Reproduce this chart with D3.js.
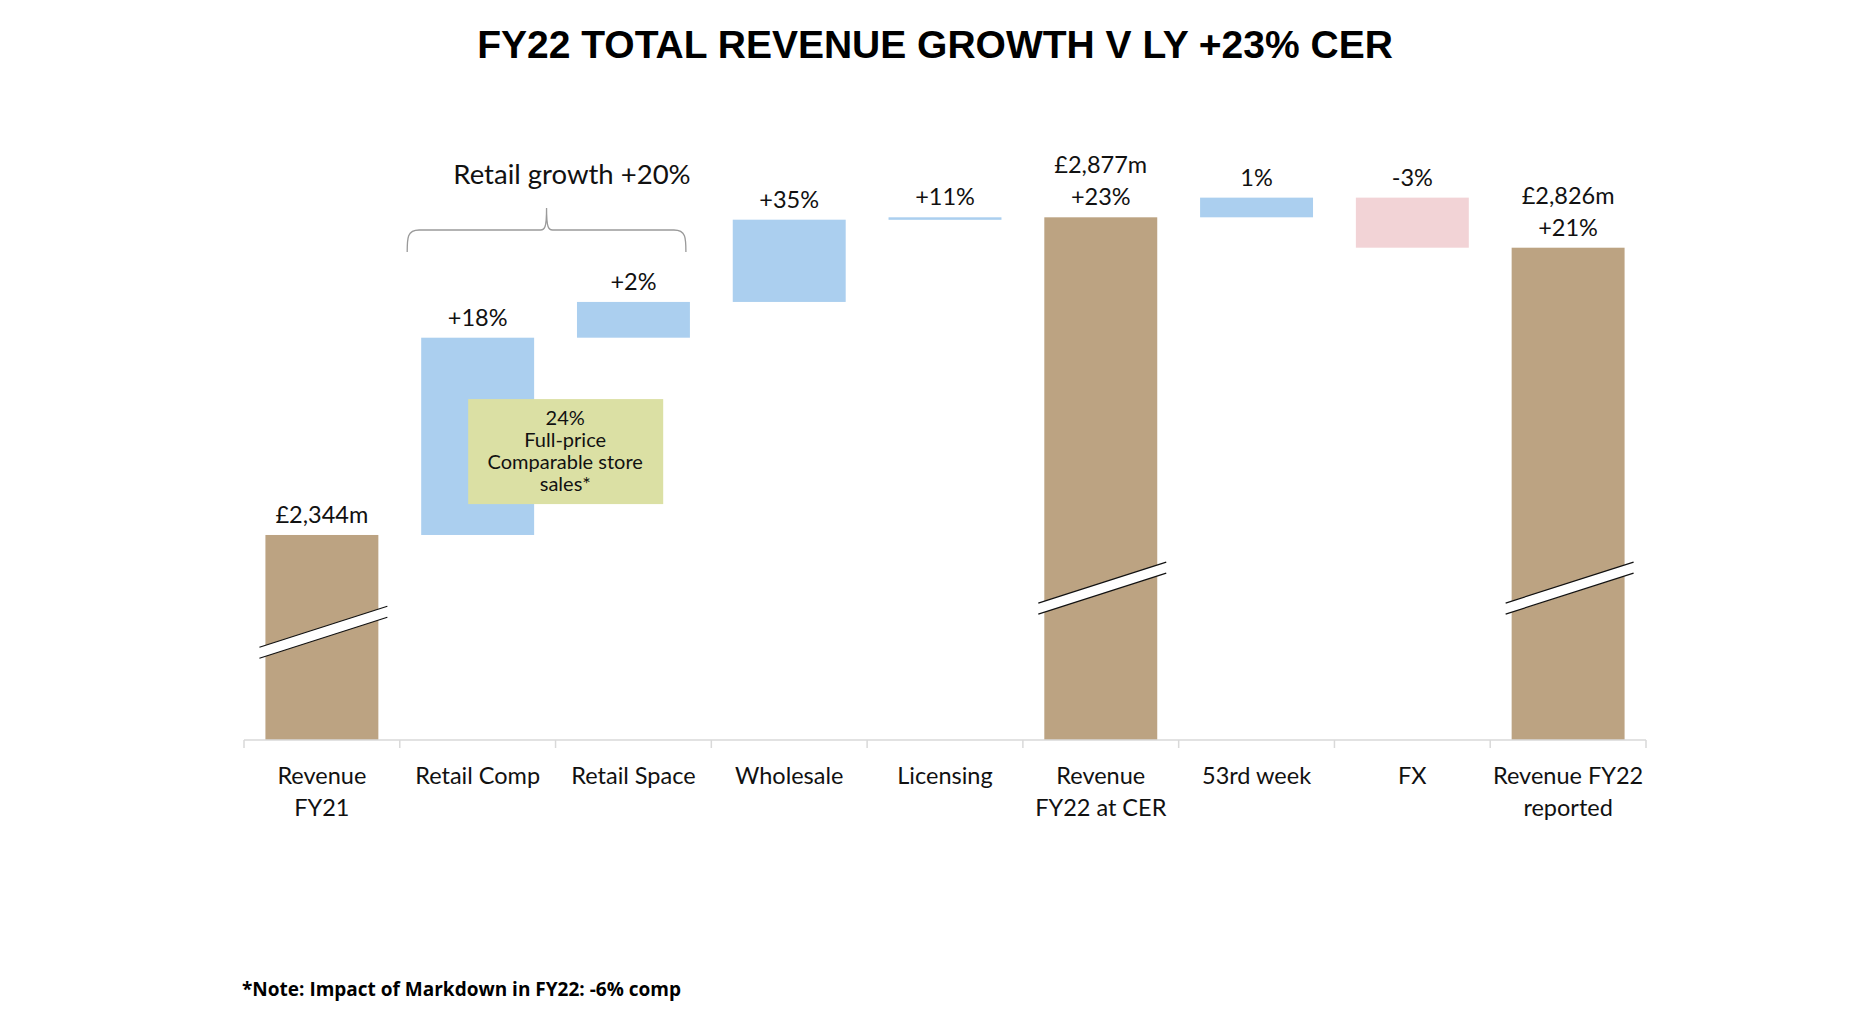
<!DOCTYPE html>
<html>
<head>
    <meta charset="utf-8">
    <title>FY22 total revenue growth</title>
    <script src="https://d3js.org/d3.v7.min.js"></script>
    <style>
        body { margin: 0; background: #fff; }
        .title { font-family: "Liberation Sans", Arial, sans-serif; font-weight: 700; font-size: 39px; }
        .lbl { font-family: Lato, "Noto Sans", sans-serif; font-size: 23.5px; fill: #111; }
        .note { font-family: "Open Sans", sans-serif; font-weight: 700; font-size: 19px; }
    </style>
</head>
<body>
<div id="chart"></div>
<script>
    // 数据
    const categories = ["Revenue FY21", "Retail Comp", "Retail Space", "Wholesale", "Licensing",
        "Revenue FY22 at CER", "53rd week", "FX", "Revenue FY22 reported"];
    const axisLabels = [["Revenue", "FY21"], ["Retail Comp"], ["Retail Space"], ["Wholesale"], ["Licensing"],
        ["Revenue", "FY22 at CER"], ["53rd week"], ["FX"], ["Revenue FY22", "reported"]];
    const kinds = ["total", "delta", "delta", "delta", "delta", "total", "delta", "delta", "total"];
    const values = [2344, 331, 60, 138, 4, 2877, 33, -84, 2826];  // £m
    const valueLabels = [["£2,344m"], ["+18%"], ["+2%"], ["+35%"], ["+11%"], ["£2,877m", "+23%"],
        ["1%"], ["-3%"], ["£2,826m", "+21%"]];
    const breakAt = [2180, null, null, null, null, 2254, null, null, 2254];
    const calloutLines = ["24%", "Full-price", "Comparable store", "sales*"];

    const width = 1866, height = 1027;
    const colors = { total: "#bca382", up: "#abcfef", down: "#f2d3d6" };

    const svg = d3.select("#chart").append("svg")
        .attr("width", width).attr("height", height);

    svg.append("text").attr("class", "title")
        .attr("x", 935).attr("y", 58).attr("text-anchor", "middle")
        .text("FY22 TOTAL REVENUE GROWTH V LY +23% CER");

    // 比例尺 (断轴，从 2000 开始)
    const x = d3.scaleBand().domain(categories).range([244, 1646])
        .paddingInner(0.275).paddingOuter(0.1375);
    const y = d3.scaleLinear().domain([2000, 2900]).range([740, 740 - 900 * 0.596]);

    // 瀑布
    let running = 0;
    const bars = categories.map((c, i) => {
        let lo, hi, kind;
        if (kinds[i] === "total") {
            lo = 2000; hi = values[i]; running = values[i]; kind = "total";
        } else {
            const start = running;
            running += values[i];
            lo = Math.min(start, running); hi = Math.max(start, running);
            kind = values[i] >= 0 ? "up" : "down";
        }
        return { cat: c, lo, hi, kind, labels: valueLabels[i], brk: breakAt[i] };
    });

    svg.append("g").selectAll("rect").data(bars).join("rect")
        .attr("x", d => x(d.cat))
        .attr("width", x.bandwidth())
        .attr("y", d => y(d.hi))
        .attr("height", d => Math.max(2.5, y(d.lo) - y(d.hi)))
        .attr("fill", d => colors[d.kind]);

    // 断轴标记
    const slope = -0.32, gap = 11;
    bars.filter(d => d.brk != null).forEach(d => {
        const cx = x(d.cat) + x.bandwidth() / 2, cy = y(d.brk);
        const x0 = x(d.cat) - 6, x1 = x(d.cat) + x.bandwidth() + 9;
        const yy = (xx, off) => cy + off + slope * (xx - cx);
        svg.append("path")
            .attr("d", `M${x0},${yy(x0, -gap / 2)}L${x1},${yy(x1, -gap / 2)}L${x1},${yy(x1, gap / 2)}L${x0},${yy(x0, gap / 2)}Z`)
            .attr("fill", "#fff");
        [-gap / 2, gap / 2].forEach(off => {
            svg.append("line")
                .attr("x1", x0).attr("y1", yy(x0, off))
                .attr("x2", x1).attr("y2", yy(x1, off))
                .attr("stroke", "#111").attr("stroke-width", 1.2);
        });
    });

    // 数值标签
    bars.forEach(d => {
        const cx = x(d.cat) + x.bandwidth() / 2;
        const n = d.labels.length;
        d.labels.forEach((t, k) => {
            svg.append("text").attr("class", "lbl")
                .attr("x", cx).attr("y", y(d.hi) - 12 - (n - 1 - k) * 32)
                .attr("text-anchor", "middle").text(t);
        });
    });

    // x 轴
    const step = x.step();
    const axisG = svg.append("g");
    axisG.append("line").attr("x1", 244).attr("x2", 1646).attr("y1", 740).attr("y2", 740)
        .attr("stroke", "#d9d9d9").attr("stroke-width", 1.5);
    d3.range(categories.length + 1).forEach(i => {
        const tx = 244 + i * step;
        axisG.append("line").attr("x1", tx).attr("x2", tx).attr("y1", 740).attr("y2", 748)
            .attr("stroke", "#d9d9d9").attr("stroke-width", 1.5);
    });
    categories.forEach((c, i) => {
        axisLabels[i].forEach((t, k) => {
            axisG.append("text").attr("class", "lbl")
                .attr("x", x(c) + x.bandwidth() / 2).attr("y", 784 + k * 32)
                .attr("text-anchor", "middle").text(t);
        });
    });

    // Retail growth 括号
    const bL = x("Retail Comp") - 14, bR = x("Retail Space") + x.bandwidth() - 4, bM = (bL + bR) / 2;
    svg.append("path")
        .attr("d", `M${bL},252 C${bL},238 ${bL},230 ${bL + 12},230 H${bM - 6} C${bM - 2},230 ${bM},228 ${bM},208
                    C${bM},228 ${bM + 2},230 ${bM + 6},230 H${bR - 12} C${bR},230 ${bR},238 ${bR},252`)
        .attr("fill", "none").attr("stroke", "#9a9a9a").attr("stroke-width", 1.3);
    svg.append("text").attr("class", "lbl").style("font-size", "27.5px")
        .attr("x", 572).attr("y", 184).attr("text-anchor", "middle").text("Retail growth +20%");

    // 说明框
    const cbX = x("Retail Comp") + 47, cbY = y(2572);
    svg.append("rect").attr("x", cbX).attr("y", cbY).attr("width", 195).attr("height", 105)
        .attr("fill", "#dbe0a4");
    calloutLines.forEach((t, k) => {
        svg.append("text").attr("class", "lbl").style("font-size", "20px")
            .attr("x", cbX + 97).attr("y", cbY + 26 + k * 22)
            .attr("text-anchor", "middle").text(t);
    });

    svg.append("text").attr("class", "note")
        .attr("x", 242).attr("y", 996)
        .text("*Note: Impact of Markdown in FY22: -6% comp");
</script>
</body>
</html>
